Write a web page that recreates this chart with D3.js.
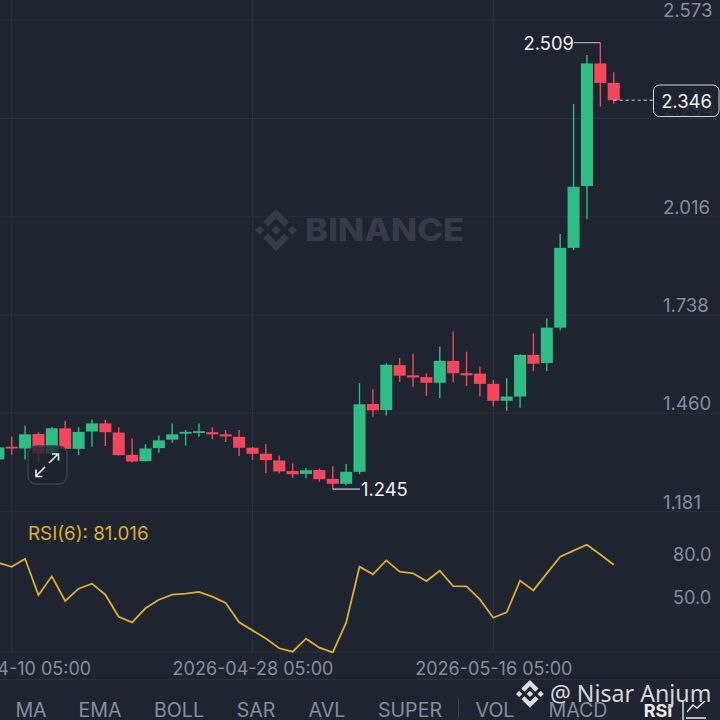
<!DOCTYPE html>
<html>
<head>
<meta charset="utf-8">
<script src="https://cdn.jsdelivr.net/npm/d3@7"></script>
<style>
html,body{margin:0;padding:0;background:#1e2430;}
svg{display:block;font-family:Inter,"Noto Sans",sans-serif;}
</style>
</head>
<body>
<svg id="chart" width="720" height="720"></svg>
<script>
// daily candles
const dates = ["2026-04-09","2026-04-10","2026-04-11","2026-04-12","2026-04-13","2026-04-14","2026-04-15","2026-04-16","2026-04-17","2026-04-18","2026-04-19","2026-04-20","2026-04-21","2026-04-22","2026-04-23","2026-04-24","2026-04-25","2026-04-26","2026-04-27","2026-04-28","2026-04-29","2026-04-30","2026-05-01","2026-05-02","2026-05-03","2026-05-04","2026-05-05","2026-05-06","2026-05-07","2026-05-08","2026-05-09","2026-05-10","2026-05-11","2026-05-12","2026-05-13","2026-05-14","2026-05-15","2026-05-16","2026-05-17","2026-05-18","2026-05-19","2026-05-20","2026-05-21","2026-05-22","2026-05-23","2026-05-24","2026-05-25"];
const opens = [1.329,1.365,1.360,1.401,1.346,1.417,1.359,1.408,1.431,1.405,1.342,1.324,1.361,1.385,1.402,1.404,1.406,1.400,1.393,1.362,1.345,1.326,1.296,1.288,1.299,1.274,1.260,1.294,1.486,1.469,1.596,1.567,1.562,1.546,1.608,1.573,1.572,1.543,1.495,1.507,1.625,1.602,1.702,1.928,2.103,2.450,2.395];
const highs = [1.365,1.393,1.424,1.406,1.420,1.438,1.420,1.442,1.441,1.420,1.388,1.372,1.397,1.431,1.412,1.431,1.420,1.412,1.412,1.365,1.373,1.340,1.318,1.304,1.303,1.310,1.316,1.545,1.528,1.601,1.616,1.629,1.573,1.649,1.691,1.634,1.592,1.554,1.559,1.627,1.686,1.728,1.967,2.335,2.474,2.509,2.425];
const lows = [1.327,1.342,1.329,1.323,1.344,1.357,1.341,1.365,1.367,1.340,1.320,1.323,1.348,1.376,1.368,1.393,1.386,1.378,1.339,1.327,1.290,1.289,1.277,1.276,1.266,1.245,1.256,1.287,1.450,1.453,1.548,1.535,1.509,1.503,1.547,1.537,1.507,1.478,1.467,1.475,1.579,1.579,1.695,1.922,2.009,2.328,2.336];
const closes = [1.363,1.360,1.400,1.346,1.417,1.359,1.407,1.431,1.406,1.341,1.323,1.360,1.383,1.400,1.407,1.409,1.400,1.394,1.362,1.345,1.327,1.295,1.287,1.298,1.273,1.260,1.294,1.485,1.468,1.597,1.566,1.561,1.546,1.608,1.573,1.567,1.543,1.495,1.507,1.625,1.600,1.702,1.928,2.101,2.450,2.395,2.346];
const rsiValues = [74.4,71.6,77.2,51.9,64.9,47.7,56.3,59.8,52.1,36.7,32.8,42.6,48.6,52.1,52.8,54.0,50.7,46.3,32.8,27.2,21.6,14.7,12.3,21.4,15.1,11.9,32.6,71.6,66.3,76.0,68.1,67.0,61.6,68.8,58.1,57.9,48.8,36.0,39.8,61.9,55.1,67.0,78.6,82.8,87.0,80.2,73.0];

const priceTicks = [2.573,2.294,2.016,1.738,1.460,1.181];
const rsiTicks = [80,50];
const timeTicks = ["2026-04-10","2026-04-28","2026-05-16"];
const tabs = ["MA","EMA","BOLL","SAR","AVL","SUPER","VOL","MACD","RSI"];
const tabCenters = [31,100,179,256,327,410,495,578,658];

const parseDay = d3.utcParse("%Y-%m-%d");
const fmtTime = d3.utcFormat("%Y-%m-%d 05:00");
const bg = "#1e2430", gridCol = "#2c323d", txtCol = "#848e9c";
const upCol = "#2ebd85", downCol = "#f6465d", rsiCol = "#dcae2e";

const x = d3.scaleUtc().domain([parseDay("2026-04-10"),parseDay("2026-05-16")]).range([11.7,493.3]);
const y = d3.scaleLinear().domain([2.573,1.181]).range([20,511.7]);
const yRsi = d3.scaleLinear().domain([80,50]).range([554.7,597.7]);

const step = x(parseDay("2026-04-11"))-x(parseDay("2026-04-10"));
const bodyW = step*0.9;

const candles = dates.map(function(d,i){
    return {date:parseDay(d),open:opens[i],high:highs[i],low:lows[i],close:closes[i],rsi:rsiValues[i]};
});

const svg = d3.select("#chart");
svg.append("rect").attr("width",720).attr("height",720).attr("fill",bg);

// grid
svg.append("g").selectAll("line").data(priceTicks).enter().append("line")
    .attr("x1",0).attr("x2",720).attr("y1",d=>y(d)).attr("y2",d=>y(d))
    .attr("stroke",gridCol).attr("stroke-width",1);
svg.append("g").selectAll("line").data(timeTicks).enter().append("line")
    .attr("x1",d=>x(parseDay(d))).attr("x2",d=>x(parseDay(d))).attr("y1",0).attr("y2",652)
    .attr("stroke",gridCol).attr("stroke-width",1);
svg.append("line").attr("x1",0).attr("x2",720).attr("y1",652).attr("y2",652).attr("stroke",gridCol);
svg.append("line").attr("x1",0).attr("x2",720).attr("y1",679.5).attr("y2",679.5).attr("stroke",gridCol);

// watermark
const logoPath = "M38.73 53.2l24.59-24.58 24.6 24.6 14.3-14.31L63.32 0 24.43 38.9zM0 63.31l14.3-14.31 14.31 14.31-14.31 14.3zM38.73 73.41l24.59 24.59 24.6-24.6 14.31 14.29-38.9 38.91-38.9-38.88-.02-.02zM97.89 63.31l14.3-14.3 14.32 14.3-14.31 14.32zM77.83 63.3L63.32 48.78 52.59 59.51l-1.24 1.23-2.54 2.54 14.51 14.5 14.51-14.47z";
svg.append("path").attr("d",logoPath).attr("fill","#363c47")
    .attr("transform","translate(255,209) scale(0.333)");
svg.append("text").text("BINANCE").attr("x",305).attr("y",241)
    .attr("font-size",31).attr("font-weight",800).attr("fill","#363c47")
    .attr("textLength",159).attr("lengthAdjust","spacingAndGlyphs");

// axes
const yAxis = d3.axisRight(y).tickValues(priceTicks).tickFormat(d3.format(".3f")).tickSize(0);
const gY = svg.append("g").attr("transform","translate(663,0)").call(yAxis);
gY.select(".domain").remove();
gY.selectAll("text").attr("x",0).attr("dy","-3.5px").attr("font-size",18.6).attr("font-family","Inter,sans-serif").attr("fill",txtCol);

const rsiAxis = d3.axisRight(yRsi).tickValues(rsiTicks).tickFormat(d3.format(".1f")).tickSize(0);
const gR = svg.append("g").attr("transform","translate(673,0)").call(rsiAxis);
gR.select(".domain").remove();
gR.selectAll("text").attr("x",0).attr("font-size",18.2).attr("font-family","Inter,sans-serif").attr("fill",txtCol);

const xAxis = d3.axisBottom(x).tickValues(timeTicks.map(parseDay)).tickFormat(fmtTime).tickSize(0);
const gX = svg.append("g").attr("transform","translate(0,652)").call(xAxis);
gX.select(".domain").remove();
gX.selectAll("text").attr("y",10.5).attr("font-size",18).attr("font-family","Inter,sans-serif").attr("fill",txtCol);

// candles
const gC = svg.append("g").selectAll("g").data(candles).enter().append("g");
gC.append("line")
    .attr("x1",d=>x(d.date)).attr("x2",d=>x(d.date)).attr("y1",d=>y(d.high)).attr("y2",d=>y(d.low))
    .attr("stroke",d=>d.close>=d.open?upCol:downCol).attr("stroke-width",1.4);
gC.append("rect")
    .attr("x",d=>x(d.date)-bodyW/2).attr("width",bodyW)
    .attr("y",d=>y(Math.max(d.open,d.close)))
    .attr("height",d=>Math.max(1.5,Math.abs(y(d.open)-y(d.close))))
    .attr("fill",d=>d.close>=d.open?upCol:downCol);

// rsi line
const rsiLine = d3.line().x(d=>x(d.date)).y(d=>yRsi(d.rsi));
svg.append("path").datum(candles).attr("d",rsiLine).attr("fill","none").attr("stroke",rsiCol).attr("stroke-width",1.8);
svg.append("text").text("RSI(6): 81.016").attr("x",28).attr("y",539.5).attr("font-size",18.8).attr("fill",rsiCol);

// high / low markers
const hi = candles[d3.greatestIndex(candles,d=>d.high)];
const lo = candles[d3.leastIndex(candles,d=>d.low)];
svg.append("line").attr("x1",574).attr("x2",x(hi.date)).attr("y1",y(hi.high)).attr("y2",y(hi.high)).attr("stroke","#a9adb3").attr("stroke-width",1.2);
svg.append("text").text(d3.format(".3f")(hi.high)).attr("x",574).attr("y",y(hi.high)+7).attr("text-anchor","end").attr("font-size",18.4).attr("fill","#f0f1f2");
svg.append("line").attr("x1",x(lo.date)).attr("x2",360).attr("y1",y(lo.low)).attr("y2",y(lo.low)).attr("stroke","#d5d7da").attr("stroke-width",1.2);
svg.append("text").text(d3.format(".3f")(lo.low)).attr("x",361).attr("y",y(lo.low)+7).attr("font-size",18.4).attr("fill","#f0f1f2");

// last price tag
const lastC = candles[candles.length-1];
svg.append("line").attr("x1",x(lastC.date)).attr("x2",653).attr("y1",y(lastC.close)).attr("y2",y(lastC.close))
    .attr("stroke","#d5d7da").attr("stroke-width",1).attr("stroke-dasharray","3,3");
svg.append("rect").attr("x",653.5).attr("y",85).attr("width",65.5).attr("height",31.5).attr("rx",6)
    .attr("fill",bg).attr("fill-opacity",0.88).attr("stroke","#d5d7da").attr("stroke-width",1);
svg.append("text").text(d3.format(".3f")(lastC.close)).attr("x",686.5).attr("y",108).attr("text-anchor","middle").attr("font-size",18.4).attr("fill","#f0f1f2");

// expand button
const gE = svg.append("g");
gE.append("rect").attr("x",28).attr("y",446).attr("width",39).attr("height",38).attr("rx",8)
    .attr("fill",bg).attr("fill-opacity",0.8).attr("stroke","#3c424d").attr("stroke-width",1.3);
gE.append("path").attr("d","M49 463L58 454M52 454H58.5V460.5M45 467L36 476M36 469.5V476.5H42.5")
    .attr("fill","none").attr("stroke","#eaecef").attr("stroke-width",1.6);

// tabs
svg.append("g").selectAll("text").data(tabs).enter().append("text")
    .text(d=>d).attr("x",(d,i)=>tabCenters[i]).attr("y",717).attr("text-anchor","middle")
    .attr("font-size",d=>d==="RSI"?18:19.6).attr("font-weight",d=>d==="RSI"?700:400).attr("fill",d=>d==="RSI"?"#eaecef":txtCol);
svg.append("line").attr("x1",458.5).attr("x2",458.5).attr("y1",698).attr("y2",718).attr("stroke","#3c424d");
svg.append("path").attr("d","M683 700V720M686 718H706M687 712L693 705L697 708L705 701")
    .attr("fill","none").attr("stroke","#eaecef").attr("stroke-width",1.4);

// repost watermark
svg.append("path").attr("d",logoPath).attr("fill","#dedede").attr("transform","translate(516,680) scale(0.22)");
svg.append("text").text("@ Nisar Anjum").attr("x",550).attr("y",702)
    .attr("font-family","'Noto Sans',sans-serif").attr("font-size",23.2).attr("fill","#d6d8da")
    .attr("stroke","#1e2430").attr("stroke-width",0.4).attr("paint-order","stroke");
</script>
</body>
</html>
